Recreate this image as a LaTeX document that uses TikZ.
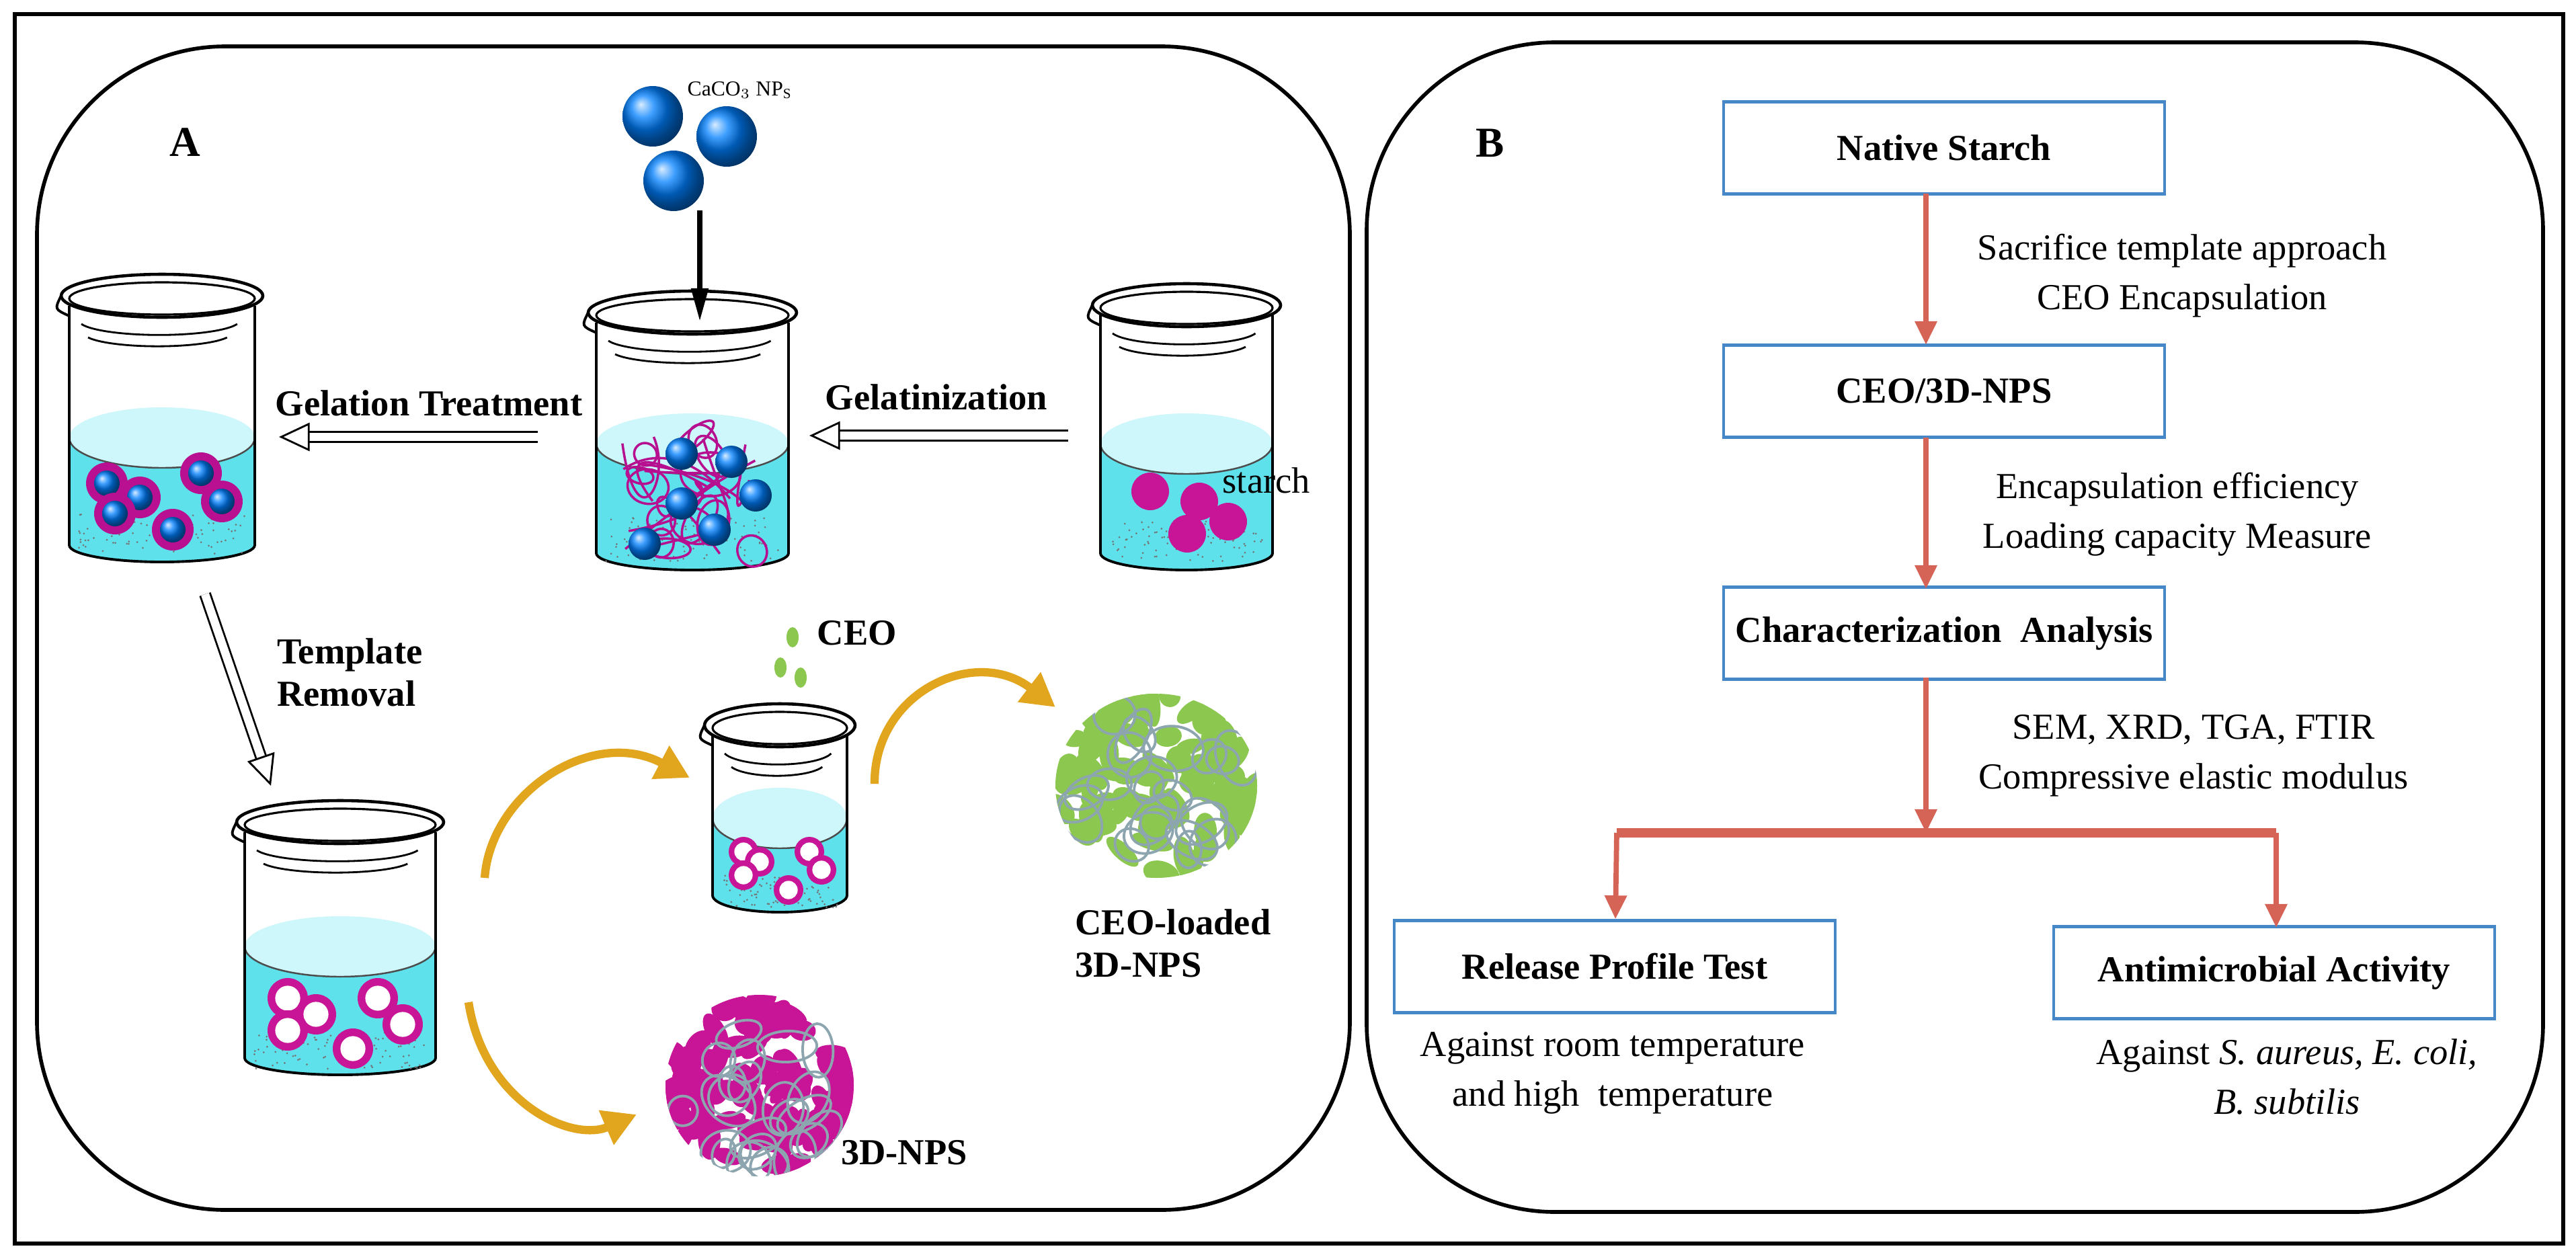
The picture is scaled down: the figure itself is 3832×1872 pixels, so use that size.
\documentclass[tikz,border=0pt]{standalone}
\usepackage{fontspec}
\setmainfont{Liberation Serif}
\usetikzlibrary{arrows.meta,shapes.geometric}
\definecolor{redar}{RGB}{214,100,86}
\definecolor{boxb}{RGB}{70,135,200}
\definecolor{liq}{RGB}{95,225,235}
\definecolor{liqtop}{RGB}{205,247,250}
\definecolor{mag}{RGB}{200,20,150}
\definecolor{gyel}{RGB}{225,165,30}
\definecolor{leaf}{RGB}{140,200,80}
\definecolor{netg}{RGB}{140,165,175}
\tikzset{
  box/.style={draw=boxb,line width=1.2pt,fill=white,minimum width=6.56cm,minimum height=1.37cm,font=\fontsize{15.5}{18}\selectfont\bfseries},
  rarr/.style={draw=redar,line width=2.2pt,-{Triangle[length=10pt,width=9pt]}},
  hol/.style={draw=black,line width=0.8pt,double=white,double distance=3.5pt,-{Triangle[open,fill=white,length=13pt,width=12pt]}},
  lab/.style={font=\fontsize{15.5}{18}\selectfont\bfseries},
  txt/.style={font=\fontsize{15.5}{21}\selectfont,align=center},
  yarr/.style={draw=gyel,line width=3.5pt,-{Triangle[length=14pt,width=15pt]}},
  frame/.style={line width=1.6pt,rounded corners=2.8cm},
}
% beaker: #1 cx, #2 rim y, #3 rx, #4 bottom y, #5 liquid y
\newcommand\mybeaker[5]{%
  \fill[liq] (#1-#3+12,#5) -- (#1-#3+12,#4-25) arc[start angle=180,end angle=0,x radius=#3-12,y radius=25] -- (#1+#3-12,#5) -- cycle;
  \fill[liqtop] (#1,#5) ellipse[x radius=#3-12,y radius=45];
  \draw[black!70,line width=0.7pt] (#1-#3+12,#5) arc[start angle=180,end angle=0,x radius=#3-12,y radius=45];
  \draw[line width=1.1pt] (#1-#3+12,#2+15) -- (#1-#3+12,#4-25) arc[start angle=180,end angle=0,x radius=#3-12,y radius=25] -- (#1+#3-12,#2+15);
  \draw[line width=1.3pt,fill=white] (#1,#2) ellipse[x radius=#3,y radius=32];
  \draw[line width=0.9pt] (#1,#2+4) ellipse[x radius=#3-12,y radius=24];
  \draw[line width=0.8pt] (#1-#3+30,#2+42) arc[start angle=165,end angle=15,x radius=#3-30,y radius=22];
  \draw[line width=0.8pt] (#1-#3+40,#2+62) arc[start angle=160,end angle=20,x radius=#3-40,y radius=20];
  \draw[line width=1.1pt] (#1-#3,#2) .. controls (#1-#3-10,#2+20) .. (#1-#3+12,#2+30);
}
\newcommand\sedots[4]{% cx, y1, rx, y2
  \foreach \k in {1,...,90}{\fill[black!55] ({#1+(rnd-0.5)*2*(#3-25)},{#2+rnd*(#4-#2)}) circle (1.5);}}
\newcommand\ring[3]{\fill[mag] (#1,#2) circle (#3); \fill[white] (#1,#2) circle (#3*0.62);}
\newcommand\bring[2]{\fill[mag!80!violet] (#1,#2) circle (31); \shade[ball color=blue!50!cyan] (#1,#2) circle (19);}
\newcommand\bball[2]{\shade[ball color=blue!50!cyan] (#1,#2) circle (24);}
\newcommand\blob[5]{% cx cy rx ry color
  \begin{scope}
  \clip (#1,#2) ellipse[x radius=#3,y radius=#4];
  \foreach \k in {1,...,90}{
    \pgfmathsetmacro\aa{rnd*360}\pgfmathsetmacro\rr{sqrt(rnd)}
    \fill[#5] ({#1+\rr*#3*cos(\aa)},{#2+\rr*#4*sin(\aa)}) ellipse[x radius={14+rnd*18},y radius={10+rnd*12},rotate={rnd*180}];}
  \foreach \k in {1,...,24}{
    \pgfmathsetmacro\aa{rnd*360}\pgfmathsetmacro\rr{sqrt(rnd)*0.9}
    \draw[netg,line width=1.1pt] ({#1+\rr*#3*cos(\aa)},{#2+\rr*#4*sin(\aa)}) ellipse[x radius={20+rnd*25},y radius={16+rnd*18},rotate={rnd*180}];}
  \end{scope}}
\begin{document}
\begin{tikzpicture}[x=0.01cm,y=-0.01cm]
\pgfmathsetseed{11}
\useasboundingbox (0,0) rectangle (3832,1872);
\fill[white] (0,0) rectangle (3832,1872);
\draw[line width=1.8pt] (22,21) rectangle (3813,1850);
\draw[frame] (55,69) rectangle (2008,1800);
\draw[frame] (2033,63) rectangle (3783,1803);
\node[font=\fontsize{18}{20}\selectfont\bfseries] (A) at (275,212) {A};
\node[font=\fontsize{18}{20}\selectfont\bfseries] (B) at (2217,213) {B};

% ---- panel A ----
\shade[ball color=blue!50!cyan] (971,173) circle (45);
\shade[ball color=blue!50!cyan] (1081,203) circle (45);
\shade[ball color=blue!50!cyan] (1002,269) circle (45);
\node[font=\fontsize{9}{10}\selectfont,anchor=west,inner sep=0] (caco) at (1022,134) {CaCO$_3$ NP$_\mathrm{S}$};

\mybeaker{241}{440}{150}{836}{651}
\mybeaker{1030}{465}{155}{848}{660}
\mybeaker{1765}{454}{140}{848}{660}
\mybeaker{506}{1223}{154}{1599}{1408}
\mybeaker{1160}{1079}{112}{1357}{1217}
\coordinate (dropS) at (1041,313);
\coordinate (dropE) at (1041,478);
\draw[line width=2pt,-{Triangle[length=14pt,width=7pt]}] (dropS) -- (dropE);
\sedots{241}{765}{150}{825}
\sedots{1030}{770}{155}{835}
\sedots{1765}{775}{140}{835}
\sedots{506}{1535}{154}{1590}
\sedots{1160}{1300}{112}{1350}

\bring{159}{719}\bring{208}{740}\bring{171}{764}\bring{299}{704}\bring{330}{746}\bring{257}{788}
\foreach \k in {1,...,14}{\draw[mag!75!violet,line width=1pt] ({935+rnd*190},{650+rnd*170}) ellipse[x radius={15+rnd*30},y radius={10+rnd*25},rotate={rnd*180}];}
\foreach \k in {1,...,10}{\draw[mag!75!violet,line width=1pt] ({920+rnd*220},{640+rnd*190}) .. controls ({920+rnd*220},{640+rnd*190}) and ({920+rnd*220},{640+rnd*190}) .. ({920+rnd*220},{640+rnd*190});}
\bball{1014}{675}\bball{1088}{687}\bball{1014}{749}\bball{1124}{737}\bball{1063}{788}\bball{959}{809}
\foreach \p in {(1711,731),(1784,746),(1827,776),(1766,794)}{\fill[mag] \p circle (28);}
\node[font=\fontsize{15.5}{18}\selectfont,anchor=west,inner sep=0] (st) at (1818,715) {starch};
\ring{428}{1485}{30}\ring{470}{1509}{30}\ring{428}{1533}{30}\ring{562}{1485}{30}\ring{599}{1524}{30}\ring{525}{1560}{30}
\ring{1106}{1267}{22}\ring{1130}{1282}{22}\ring{1106}{1302}{22}\ring{1204}{1267}{22}\ring{1222}{1294}{22}\ring{1173}{1324}{22}
\foreach \p in {(1179,948),(1161,993),(1191,1008)}{\fill[leaf] \p ellipse[x radius=9,y radius=15];}
\node[lab,anchor=west,inner sep=0] (ceo) at (1215,942) {CEO};
\blob{1720}{1169}{150}{137}{leaf}
\blob{1130}{1615}{140}{135}{mag}
\node[lab,align=left] (cl) at (1745,1403) {CEO-loaded\\ 3D-NPS};
\node[lab] (np) at (1345,1715) {3D-NPS};
\node[lab] (gt) at (638,600) {Gelation Treatment};
\node[lab] (gz) at (1393,591) {Gelatinization};
\coordinate (g1s) at (800,650); \coordinate (g1e) at (415,650);
\coordinate (g2s) at (1589,648); \coordinate (g2e) at (1204,648);
\coordinate (g3s) at (305,884); \coordinate (g3e) at (403,1169);
\draw[hol] (g1s) -- (g1e);
\draw[hol] (g2s) -- (g2e);
\draw[hol] (g3s) -- (g3e);
\node[lab,align=left,anchor=west] (tr) at (400,1000) {Template\\Removal};
\coordinate (y1s) at (721,1306); \coordinate (y1e) at (1026,1157);
\coordinate (y2s) at (1301,1166); \coordinate (y2e) at (1570,1052);
\coordinate (y3s) at (697,1491); \coordinate (y3e) at (947,1658);
\draw[yarr] (y1s) .. controls (730,1180) and (880,1080) .. (y1e);
\draw[yarr] (y2s) .. controls (1300,1030) and (1450,960) .. (y2e);
\draw[yarr] (y3s) .. controls (720,1640) and (850,1700) .. (y3e);

% ---- panel B ----
\node[box] (n1) at (2892,220) {Native Starch};
\node[box] (n2) at (2892,582) {CEO/3D-NPS};
\node[box] (n3) at (2892,942) {Characterization\ \ Analysis};
\node[box] (n4) at (2402,1438) {Release Profile Test};
\node[box] (n5) at (3383,1447) {Antimicrobial Activity};
\coordinate (a1) at (2865,288); \coordinate (b1) at (2865,513);
\coordinate (a2) at (2865,651); \coordinate (b2) at (2865,876);
\coordinate (a3) at (2865,1008);
\coordinate (j) at (2865,1239);
\coordinate (jl) at (2405,1239);
\coordinate (jr) at (3386,1239);
\coordinate (e5) at (3386,1380);
\draw[rarr] (a1) -- (b1);
\draw[rarr] (a2) -- (b2);
\draw[rarr] (a3) -- (j);
\draw[draw=redar,line width=3.8pt] (jl) -- (jr);
\draw[rarr] (jl) -- (n4);
\draw[rarr] (jr) -- (e5);
\node[txt] (t1) at (3246,410) {Sacrifice template approach\\CEO Encapsulation};
\node[txt] (t2) at (3239,765) {Encapsulation efficiency\\Loading capacity Measure};
\node[txt] (t3) at (3263,1124) {SEM, XRD, TGA, FTIR\\Compressive elastic modulus};
\node[txt] (t4) at (2399,1596) {Against room temperature\\and high\ \ temperature};
\node[txt] (t5) at (3402,1602) {Against \textit{S. aureus, E. coli,}\\\textit{B. subtilis}};
\end{tikzpicture}
\end{document}
